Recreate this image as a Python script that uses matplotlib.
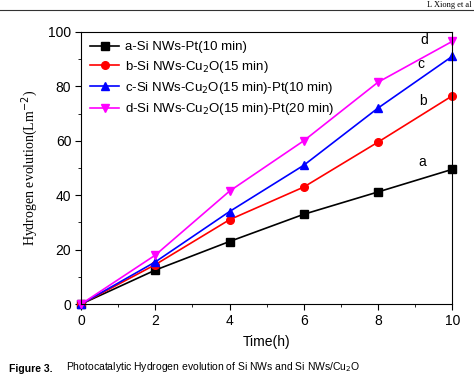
import matplotlib.pyplot as plt
from matplotlib.ticker import MultipleLocator
from matplotlib.lines import Line2D

plt.rcParams['font.family'] = ['Liberation Sans', 'DejaVu Sans']

# 时间 (h)
time_h = [0, 2, 4, 6, 8, 10]

# 各样品产氢量 (L m^-2)
a_vals = [0, 12.5, 23, 33, 41.2, 49.5]
b_vals = [0, 14.5, 31, 43, 59.5, 76.5]
c_vals = [0, 15.5, 34, 51, 72, 91]
d_vals = [0, 18, 41.5, 60, 81.5, 96.5]

labels = ['a-Si NWs-Pt(10 min)',
          'b-Si NWs-Cu$_2$O(15 min)',
          'c-Si NWs-Cu$_2$O(15 min)-Pt(10 min)',
          'd-Si NWs-Cu$_2$O(15 min)-Pt(20 min)']
short = ['a', 'b', 'c', 'd']
colors = ['#000000', '#ff0000', '#0000ff', '#ff00ff']
markers = ['s', 'o', '^', 'v']
# 曲线末端字母标注位置
note_x = [9.2, 9.2, 9.15, 9.25]
note_y = [49.5, 72, 85.5, 94.5]

fig = plt.figure(figsize=(4.74, 3.75), dpi=100)
ax = fig.add_axes([0.171, 0.189, 0.783, 0.726])

for vals, lab, c, m in zip([a_vals, b_vals, c_vals, d_vals], labels, colors, markers):
    ax.plot(time_h, vals, color=c, marker=m, markersize=5.5, linewidth=1.2, label=lab,
            clip_on=False)

for s, x, y in zip(short, note_x, note_y):
    ax.text(x, y, s, fontsize=10, ha='center', va='bottom')

ax.set_xlim(0, 10)
ax.set_ylim(0, 100)
ax.xaxis.set_major_locator(MultipleLocator(2))
ax.xaxis.set_minor_locator(MultipleLocator(1))
ax.yaxis.set_major_locator(MultipleLocator(20))
ax.yaxis.set_minor_locator(MultipleLocator(10))
ax.tick_params(which='both', direction='out', top=False, right=False, labelsize=10)
ax.tick_params(which='major', length=4, pad=3)
ax.tick_params(which='minor', length=2.5)

ax.set_xlabel('Time(h)', fontsize=10, labelpad=5)
ax.set_ylabel('Hydrogen evolution(Lm$^{-2}$)', fontsize=10, family='Liberation Serif',
              labelpad=6)

ax.legend(loc='upper left', frameon=False, fontsize=9.5, handlelength=2.2,
          borderaxespad=0.3, labelspacing=0.4, handletextpad=0.4)

# 页眉和图注
fig.add_artist(Line2D([0, 1], [1 - 10 / 375, 1 - 10 / 375], color='#333333', linewidth=0.8))
fig.text(0.995, 1 - 9 / 375, 'L Xiong et al', ha='right', va='bottom',
         fontsize=6, family='Liberation Serif')
fig.text(0.02, 1 / 375, 'Figure 3.', ha='left', va='bottom', fontsize=7.5, fontweight='bold')
fig.text(0.14, 1 / 375, 'Photocatalytic Hydrogen evolution of Si NWs and Si NWs/Cu$_2$O',
         ha='left', va='bottom', fontsize=7.5)

fig.savefig('out.png', dpi=100)
